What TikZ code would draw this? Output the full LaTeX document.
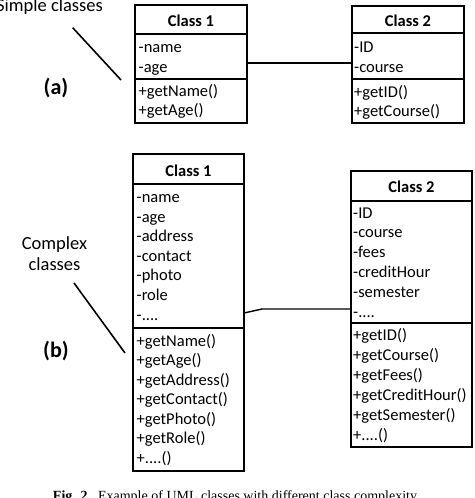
\documentclass[tikz,border=0pt]{standalone}
\usepackage{fontspec}
\setmainfont{Carlito}
\newfontfamily\capfont{Liberation Serif}
\newcommand\fourdots{....}
\begin{document}
\begin{tikzpicture}[x=1pt,y=-1pt,
  box/.style={draw, line width=1.6pt, inner sep=0pt, outer sep=0pt, anchor=north west},
  txt/.style={inner sep=0pt, anchor=base west, font=\fontsize{16.5}{19}\selectfont},
  hdr/.style={inner sep=0pt, anchor=base, font=\fontsize{16.5}{19}\selectfont\bfseries},
  lbl/.style={inner sep=0pt, anchor=base, font=\fontsize{18.5}{22}\selectfont},
  tag/.style={inner sep=0pt, font=\fontsize{22}{26}\selectfont\bfseries},
  link/.style={line width=1.4pt},
  pointer/.style={line width=1.6pt}]
\useasboundingbox (0,0) rectangle (474,498);

% ---------- (a) Class 1
\node[box, minimum width=112pt, minimum height=29pt] (a1h) at (135,5) {};
\node[box, minimum width=112pt, minimum height=45pt] (a1a) at (a1h.south west) {};
\node[box, minimum width=112pt, minimum height=44pt] (a1m) at (a1a.south west) {};
\node[hdr] (a1t) at (191,26.5) {Class 1};
\foreach \t [count=\i from 0] in {-name,-age}
  \node[txt] (a1a-\i) at (138.5,{52.7+19.5*\i}) {\t};
\foreach \t [count=\i from 0] in {+getName(),+getAge()}
  \node[txt] (a1m-\i) at (138.5,{96.3+19*\i}) {\t};

% ---------- (a) Class 2
\node[box, minimum width=112pt, minimum height=27pt] (a2h) at (352,6) {};
\node[box, minimum width=112pt, minimum height=46pt] (a2a) at (a2h.south west) {};
\node[box, minimum width=112pt, minimum height=44pt] (a2m) at (a2a.south west) {};
\node[hdr] (a2t) at (408,26.5) {Class 2};
\foreach \t [count=\i from 0] in {-ID,-course}
  \node[txt] (a2a-\i) at (354,{52.5+20*\i}) {\t};
\foreach \t [count=\i from 0] in {+getID(),+getCourse()}
  \node[txt] (a2m-\i) at (354,{97+19.5*\i}) {\t};

\draw[link] ([yshift=-6.5pt]a1a.east) -- ([yshift=-7pt]a2a.west);

% ---------- (b) Class 1
\node[box, minimum width=111pt, minimum height=30pt] (b1h) at (133,154) {};
\node[box, minimum width=111pt, minimum height=144pt] (b1a) at (b1h.south west) {};
\node[box, minimum width=111pt, minimum height=143pt] (b1m) at (b1a.south west) {};
\node[hdr] (b1t) at (188.5,176) {Class 1};
\foreach \t [count=\i from 0] in {-name,-age,-address,-contact,-photo,-role,-\fourdots}
  \node[txt] (b1a-\i) at (136.5,{202.5+19.6*\i}) {\t};
\foreach \t [count=\i from 0] in {+getName(),+getAge(),+getAddress(),+getContact(),+getPhoto(),+getRole(),+\fourdots()}
  \node[txt] (b1m-\i) at (136.5,{346+19.5*\i}) {\t};

% ---------- (b) Class 2
\node[box, minimum width=121pt, minimum height=30pt] (b2h) at (351,171) {};
\node[box, minimum width=121pt, minimum height=122pt] (b2a) at (b2h.south west) {};
\node[box, minimum width=121pt, minimum height=124pt] (b2m) at (b2a.south west) {};
\node[hdr] (b2t) at (411.5,192.7) {Class 2};
\foreach \t [count=\i from 0] in {-ID,-course,-fees,-creditHour,-semester,-\fourdots}
  \node[txt] (b2a-\i) at (353,{218+19.9*\i}) {\t};
\foreach \t [count=\i from 0] in {+getID(),+getCourse(),+getFees(),+getCreditHour(),+getSemester(),+\fourdots()}
  \node[txt] (b2m-\i) at (353,{340.5+19.9*\i}) {\t};

\coordinate (bend) at (262,309);
\draw[link] ([yshift=-57pt]b1a.east) -- (bend) -- (b2a.west |- bend);

% ---------- labels and pointers
\node[lbl, anchor=base west] (simple) at (-4,11) {Simple classes};
\coordinate (pa1) at (72.7,27.7);
\coordinate (pa2) at (121,80);
\draw[pointer] (pa1) -- (pa2);
\node[tag] (taga) at (56,88) {(a)};

\node[lbl] (cx1) at (54.5,249) {Complex};
\node[lbl] (cx2) at (54.5,270) {classes};
\coordinate (pb1) at (74,283);
\coordinate (pb2) at (125,353);
\draw[pointer] (pb1) -- (pb2);
\node[tag] (tagb) at (56,351) {(b)};

% ---------- caption (cut at the bottom edge)
\node[inner sep=0pt, anchor=base, font=\capfont\fontsize{14}{16}\selectfont] (cap) at (235,500.5)
  {\textbf{Fig. 2.}\enspace Example of UML classes with different class complexity};
\end{tikzpicture}
\end{document}
